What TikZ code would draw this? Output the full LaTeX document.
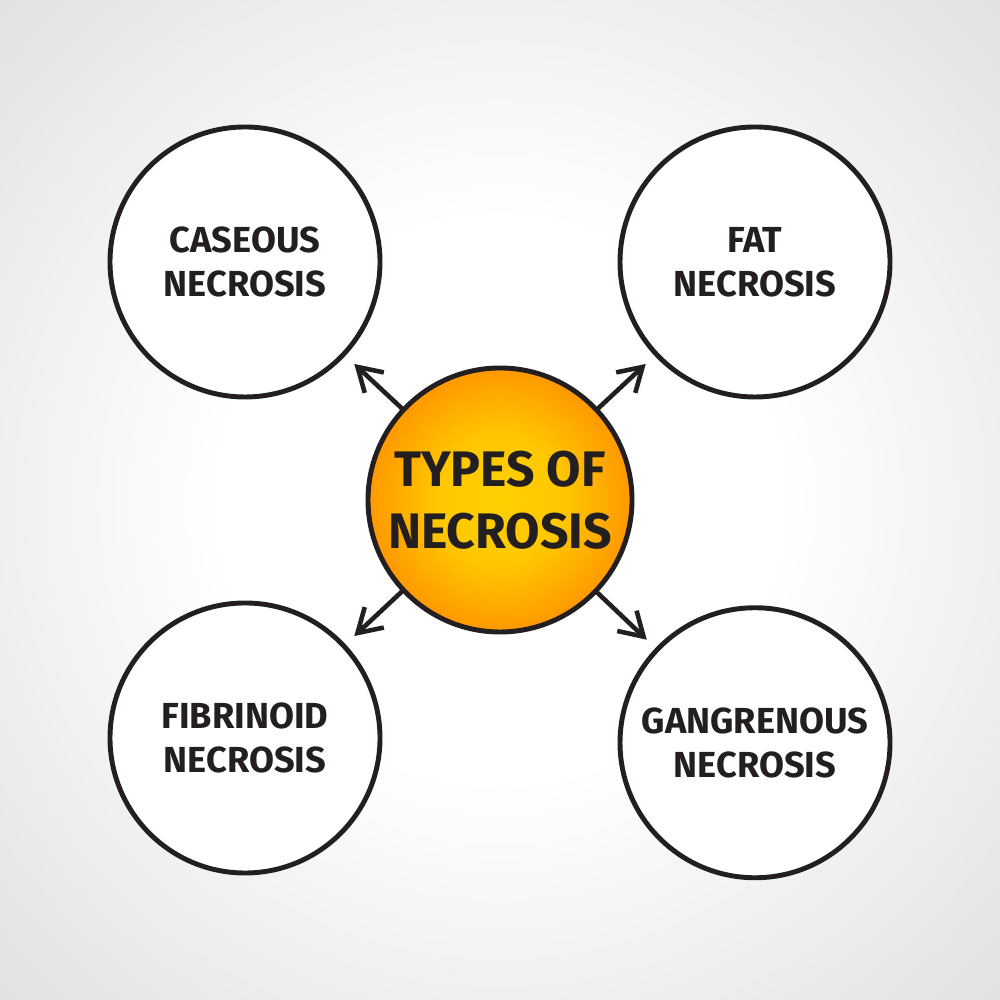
\documentclass[tikz,border=0pt]{standalone}
\usepackage{fontspec}
\setmainfont{Fira Sans}
\usepackage{tikz}
\usetikzlibrary{positioning, calc}
\usetikzlibrary{arrows.meta,shapes}
\definecolor{amber}{HTML}{FFD000}
\definecolor{darkorange}{HTML}{FF9800}
\definecolor{inkblack}{HTML}{231F20}
\pgfdeclareradialshading{backdrop}{\pgfpoint{0bp}{0bp}}{color(0bp)=(white); color(14bp)=(white); color(34bp)=(black!11); color(50bp)=(black!16)}
\pgfdeclareradialshading{glow}{\pgfpoint{0bp}{0bp}}{color(0bp)=(amber); color(12bp)=(amber!85!darkorange); color(25bp)=(darkorange); color(50bp)=(darkorange)}

\begin{document}
\begin{tikzpicture}[
	                    kind/.style={circle,
	                                 draw=inkblack,
	                                 line width=1.4pt,
	                                 fill=white,
	                                 minimum size=2.7cm,
	                                 inner sep=0pt,
	                                 align=center,
	                                 font=\fontsize{10.3}{12.6}\selectfont\bfseries,
	                                 text=inkblack},
	                    hub/.style={kind,
	                                minimum size=2.64cm,
	                                shading=glow,
	                                font=\fontsize{14.2}{17.5}\selectfont\bfseries},
	                    post/.style={-{Straight Barb[length=2.3mm,width=2.8mm,line width=1.3pt]},
	                                 draw=inkblack,
	                                 shorten >=1.2mm,
	                                 line width=1.3pt,
	                                 line cap=round}]
	\shade[shading=backdrop] (0,0) rectangle (10,10);
	\useasboundingbox (0,0) rectangle (10,10);
	\coordinate (h) at (2.55,0);
	\coordinate (v) at (0,2.38);
	\node [hub] (Types) at (5,5) {TYPES OF\\NECROSIS};
	\node [kind] (Caseous) at ($(Types)-(h)+(v)$) {CASEOUS\\NECROSIS};
	\node [kind] (Fat) at ($(Types)+(h)+(v)$) {FAT\\NECROSIS};
	\node [kind] (Fibrinoid) at ($(Types)-(h)-(v)$) {FIBRINOID\\NECROSIS};
	\node [kind] (Gangrenous) at ($(Types)+(h)-1.02*(v)$) {GANGRENOUS\\NECROSIS};

	\draw[post] (Types) -- (Caseous);
	\draw[post] (Types) -- (Fat);
	\draw[post] (Types) -- (Fibrinoid);
	\draw[post] (Types) -- (Gangrenous);
	\end{tikzpicture}
\end{document}
